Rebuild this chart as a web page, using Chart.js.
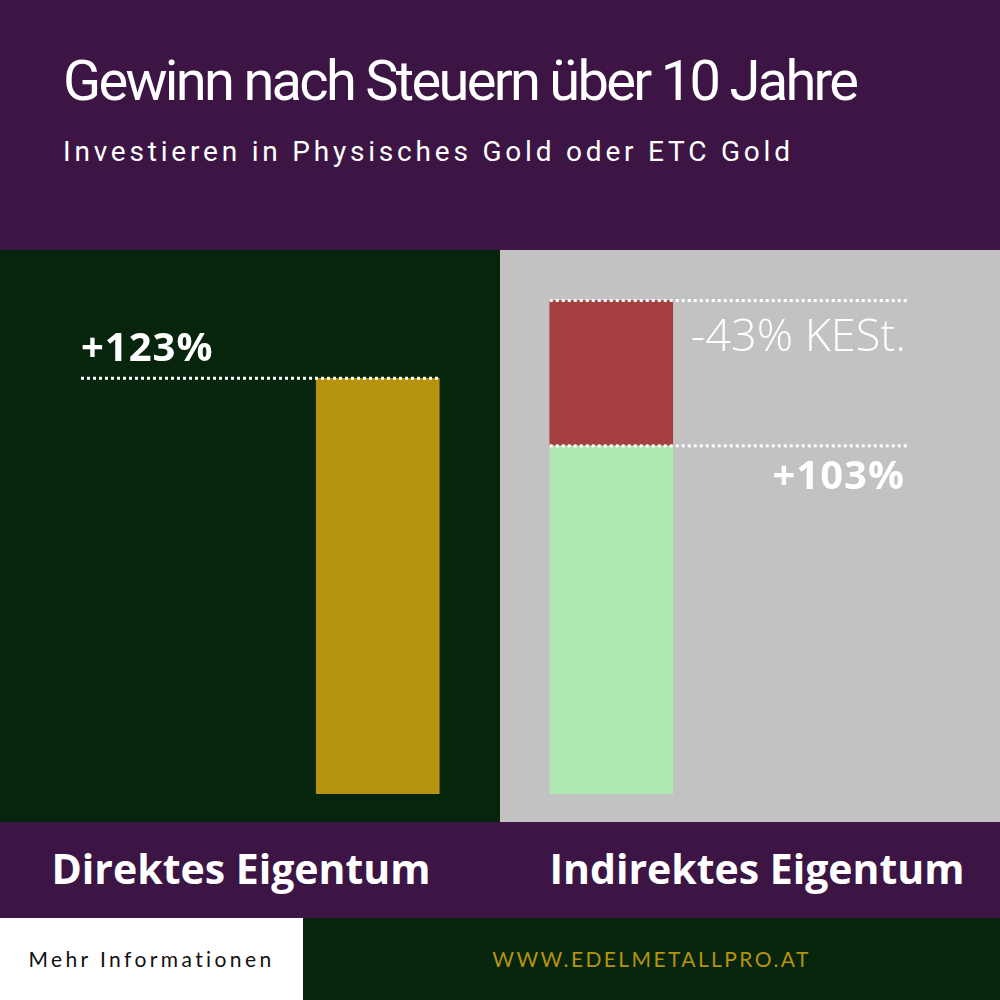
<!DOCTYPE html>
<html>
<head>
<meta charset="utf-8">
<script src="https://cdn.jsdelivr.net/npm/chart.js@4"></script>
<style>
  html, body { margin: 0; padding: 0; }
  body { width: 1000px; height: 1000px; position: relative; overflow: hidden; background: #3c1545; }
  .box { position: absolute; }
  #title { left: 63px; top: 53px; color: #fff; font: 400 56px/56px Roboto, sans-serif; letter-spacing: -2.7px; white-space: nowrap; }
  #subtitle { left: 63px; top: 138px; color: #fff; font: 400 28px/28px Roboto, sans-serif; letter-spacing: 3.8px; white-space: nowrap; }
  #leftPanel { left: 0; top: 250px; width: 500px; height: 572px; background: #07240c; }
  #rightPanel { left: 500px; top: 250px; width: 500px; height: 572px; background: #c2c2c2; }
  .cat { top: 840px; color: #fff; font: 700 41px "Open Sans", sans-serif; white-space: nowrap; text-align: center; width: 500px; }
  #info { left: 0; top: 918px; width: 303px; height: 82px; background: #fff; color: #111; font: 400 21px Lato, sans-serif; letter-spacing: 3.4px; line-height: 82px; text-align: center; }
  #web { left: 303px; top: 918px; width: 697px; height: 82px; background: #07240c; color: #b5930f; font: 400 21px Lato, sans-serif; letter-spacing: 2.4px; line-height: 82px; text-align: center; }
  #chartWrap { left: 0; top: 250px; width: 1000px; height: 572px; }
</style>
</head>
<body>
<div class="box" id="title">Gewinn nach Steuern über 10 Jahre</div>
<div class="box" id="subtitle">Investieren in Physisches Gold oder ETC Gold</div>
<div class="box" id="leftPanel"></div>
<div class="box" id="rightPanel"></div>
<div class="box" id="chartWrap"><canvas id="chart" width="1000" height="572"></canvas></div>
<div class="box cat" style="left:-9px">Direktes Eigentum</div>
<div class="box cat" style="left:507px">Indirektes Eigentum</div>
<div class="box" id="info">Mehr Informationen</div>
<div class="box" id="web">WWW.EDELMETALLPRO.AT</div>

<script>
const categories = ['Direktes Eigentum', 'Indirektes Eigentum'];
const netGain = [123, 103];
const tax = [0, 43];
const gainLabels = ['+123%', '+103%'];
const taxLabel = '-43% KESt.';

const dotted = (ctx, x1, x2, y) => {
    ctx.save();
    ctx.strokeStyle = '#ffffff';
    ctx.lineWidth = 3;
    ctx.setLineDash([3, 3]);
    ctx.beginPath();
    ctx.moveTo(x1, y);
    ctx.lineTo(x2, y);
    ctx.stroke();
    ctx.restore();
};

const annotations = {
    id: 'annotations',
    afterDatasetsDraw(chart) {
        const ctx = chart.ctx;
        const y = chart.scales.y;
        const gainBars = chart.getDatasetMeta(0).data;
        const left = gainBars[0];
        const right = gainBars[1];
        const half = left.width / 2;

        // left bar
        const yLeft = y.getPixelForValue(netGain[0]);
        dotted(ctx, 81, left.x + half, yLeft);

        // right bar: total and net lines
        const yGreen = y.getPixelForValue(netGain[1]);
        const yTop = y.getPixelForValue(netGain[1] + tax[1]);
        dotted(ctx, right.x - half, 907, yTop);
        dotted(ctx, right.x - half, 907, yGreen);

        ctx.save();
        ctx.fillStyle = '#ffffff';
        ctx.textBaseline = 'alphabetic';
        ctx.font = '700 40px "Open Sans", sans-serif';
        ctx.letterSpacing = '1px';
        ctx.textAlign = 'left';
        ctx.fillText(gainLabels[0], 81, yLeft - 17);
        ctx.textAlign = 'right';
        ctx.fillText(gainLabels[1], 905, yGreen + 43);
        ctx.letterSpacing = '0px';
        ctx.font = '300 45px "Open Sans", sans-serif';
        ctx.fillText(taxLabel, 906, yTop + 50);
        ctx.restore();
    }
};

new Chart(document.getElementById('chart'), {
    type: 'bar',
    data: {
        labels: categories,
        datasets: [{
            label: 'Gewinn',
            data: netGain,
            backgroundColor: ['#b5930f', '#afe9b1'],
            barThickness: 123
        }, {
            label: 'KESt.',
            data: tax,
            backgroundColor: '#a53f42',
            barThickness: 123
        }]
    },
    plugins: [annotations],
    options: {
        responsive: false,
        animation: false,
        layout: { padding: { left: 261, right: 272, top: 37, bottom: 28 } },
        plugins: { legend: { display: false }, tooltip: { enabled: false } },
        scales: {
            x: { stacked: true, display: false },
            y: { stacked: true, display: false, min: 0, max: 150 }
        }
    }
});
</script>
</body>
</html>
